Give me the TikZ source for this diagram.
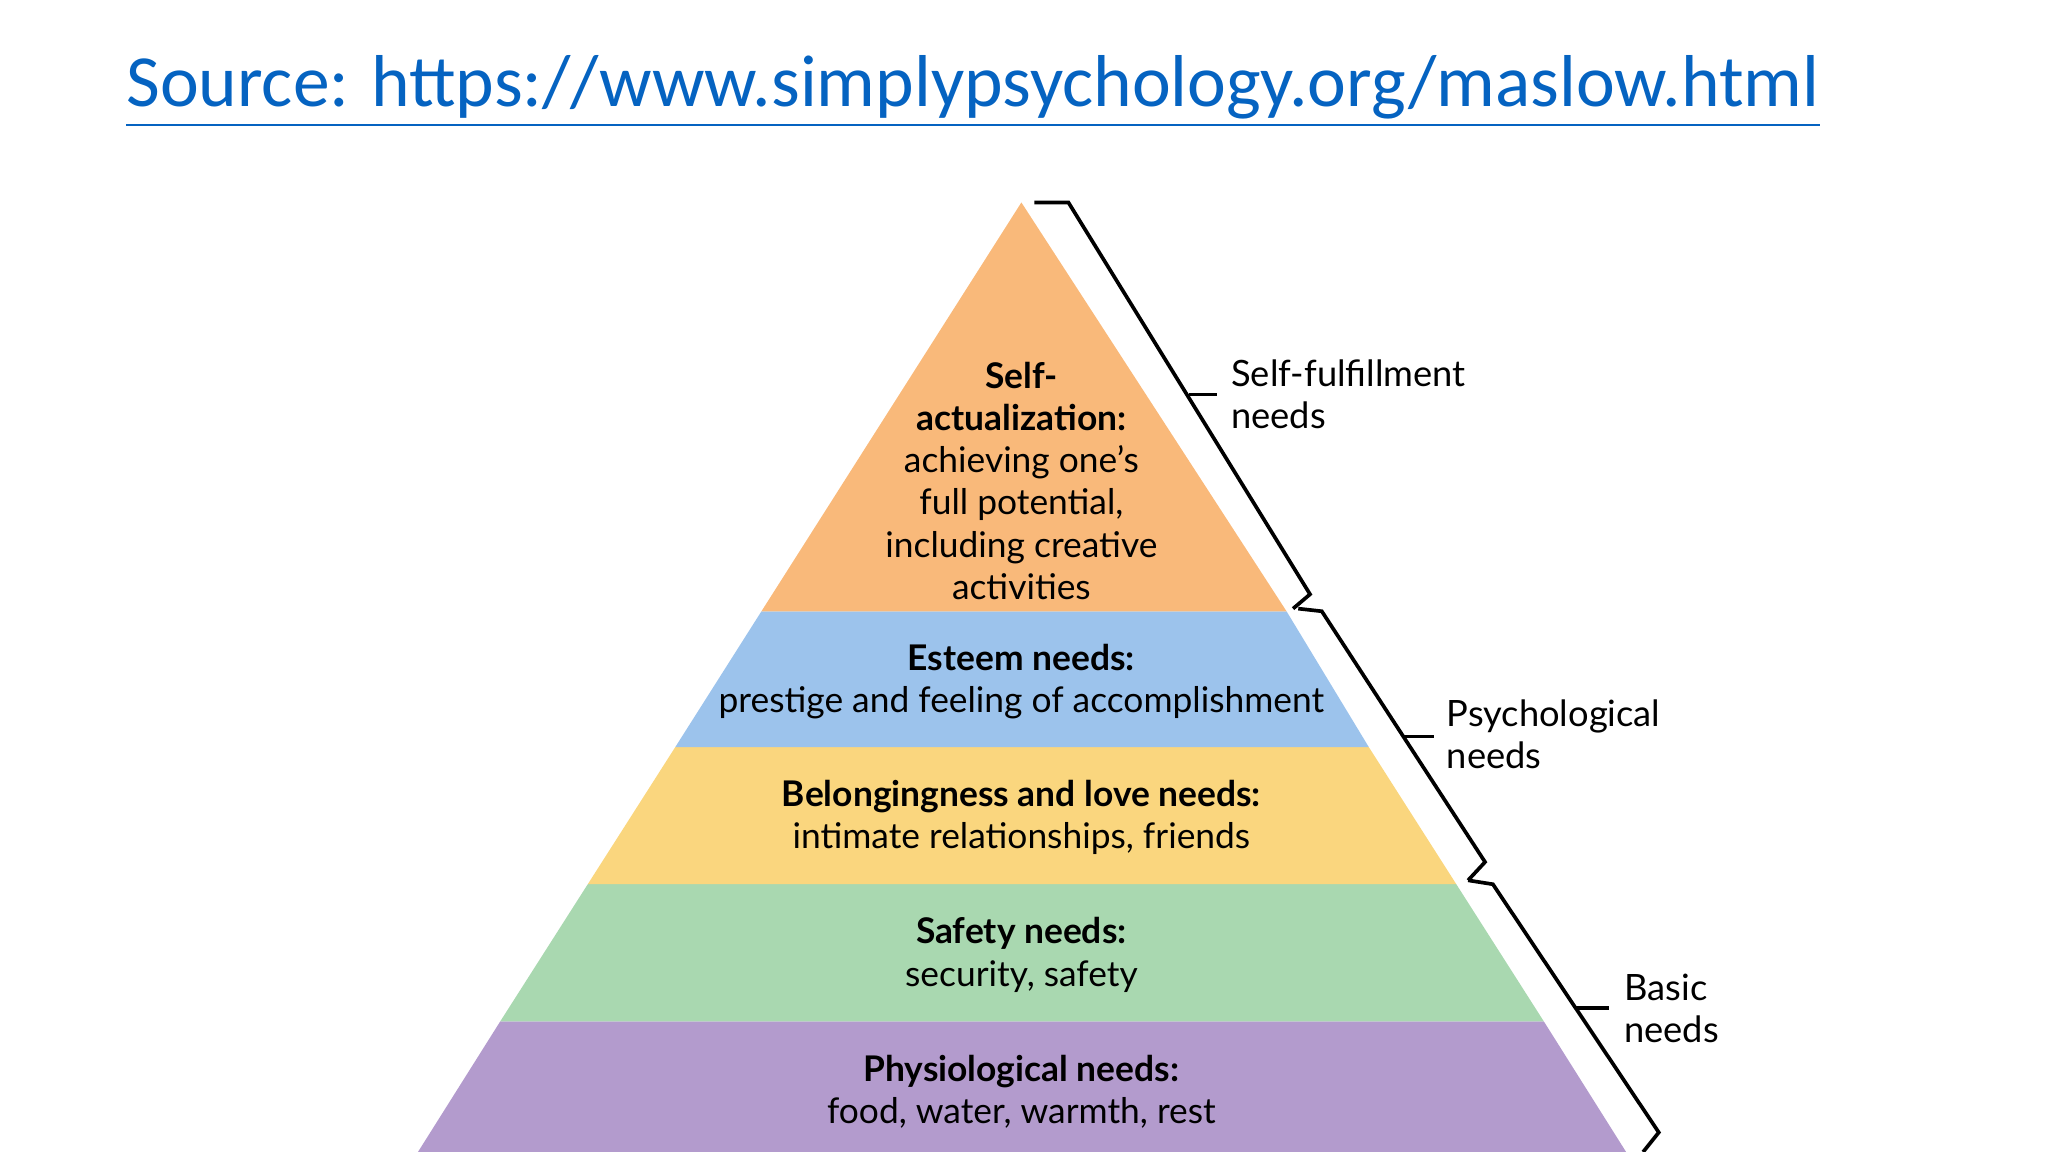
\documentclass[tikz,border=0pt]{standalone}
\usepackage{fontspec}
\setmainfont{Lato}
\newfontfamily\linkfont{Carlito}
\usetikzlibrary{positioning}
\definecolor{selfcol}{HTML}{F9B97A}
\definecolor{esteemcol}{HTML}{9CC3EC}
\definecolor{lovecol}{HTML}{FAD67E}
\definecolor{safecol}{HTML}{A9D8B0}
\definecolor{physcol}{HTML}{B39BCD}
\definecolor{linkcol}{HTML}{0563C1}

\begin{document}
\begin{tikzpicture}[
    x=0.01cm, y=-0.01cm,
    level/.style={align=center, font=\fontsize{7.7}{9.2}\selectfont, inner sep=0pt},
    side/.style={align=left, anchor=west, font=\fontsize{7.9}{9.2}\selectfont, inner sep=0pt},
    bracket/.style={thick, line join=miter}
]
\useasboundingbox (0,0) rectangle (1568,882);

% === TITLE LINK ===
\node[anchor=west, inner sep=0pt, text=linkcol] (src) at (96,70)
    {\linkfont\fontsize{16}{20}\selectfont\underline{Source: https://www.simplypsychology.org/maslow.html}};

% === PYRAMID BANDS ===
\fill[physcol] (383,782) -- (1182,782) -- (1245,882) -- (320,882) -- cycle;
\fill[safecol] (450,677) -- (1115,677) -- (1182,782) -- (383,782) -- cycle;
\fill[lovecol] (517,572) -- (1048,572) -- (1115,677) -- (450,677) -- cycle;
\fill[esteemcol] (583,468) -- (985,468) -- (1048,572) -- (517,572) -- cycle;
\fill[selfcol] (782,155) -- (985,468) -- (583,468) -- cycle;

% === LEVEL TEXTS ===
\node[level] (selfact) at (782,368) {\textbf{Self-}\\\textbf{actualization:}\\achieving one's\\full potential,\\including creative\\activities};
\node[level] (esteem) at (782,522) {\textbf{Esteem needs:}\\prestige and feeling of accomplishment};
\node[level] (love) at (782,626) {\textbf{Belongingness and love needs:}\\intimate relationships, friends};
\node[level] (safety) at (782,731) {\textbf{Safety needs:}\\security, safety};
\node[level] (physio) at (782,836) {\textbf{Physiological needs:}\\food, water, warmth, rest};

% === BRACKETS ===
\draw[bracket] (792,155) -- (818,155) -- (1003,455) -- (990,466);
\draw[bracket] (910,302) -- (932,302);
\draw[bracket] (994,466) -- (1012,468) -- (1137,660) -- (1124,674);
\draw[bracket] (1075,564) -- (1098,564);
\draw[bracket] (1124,674) -- (1143,677) -- (1270,867) -- (1258,882);
\draw[bracket] (1206,772) -- (1232,772);

% === GROUP LABELS ===
\node[side] (fulfil) at (942,302) {Self-fulfillment\\needs};
\node[side] (psych) at (1107,562) {Psychological\\needs};
\node[side] (basic) at (1243,772) {Basic\\needs};

\end{tikzpicture}
\end{document}
